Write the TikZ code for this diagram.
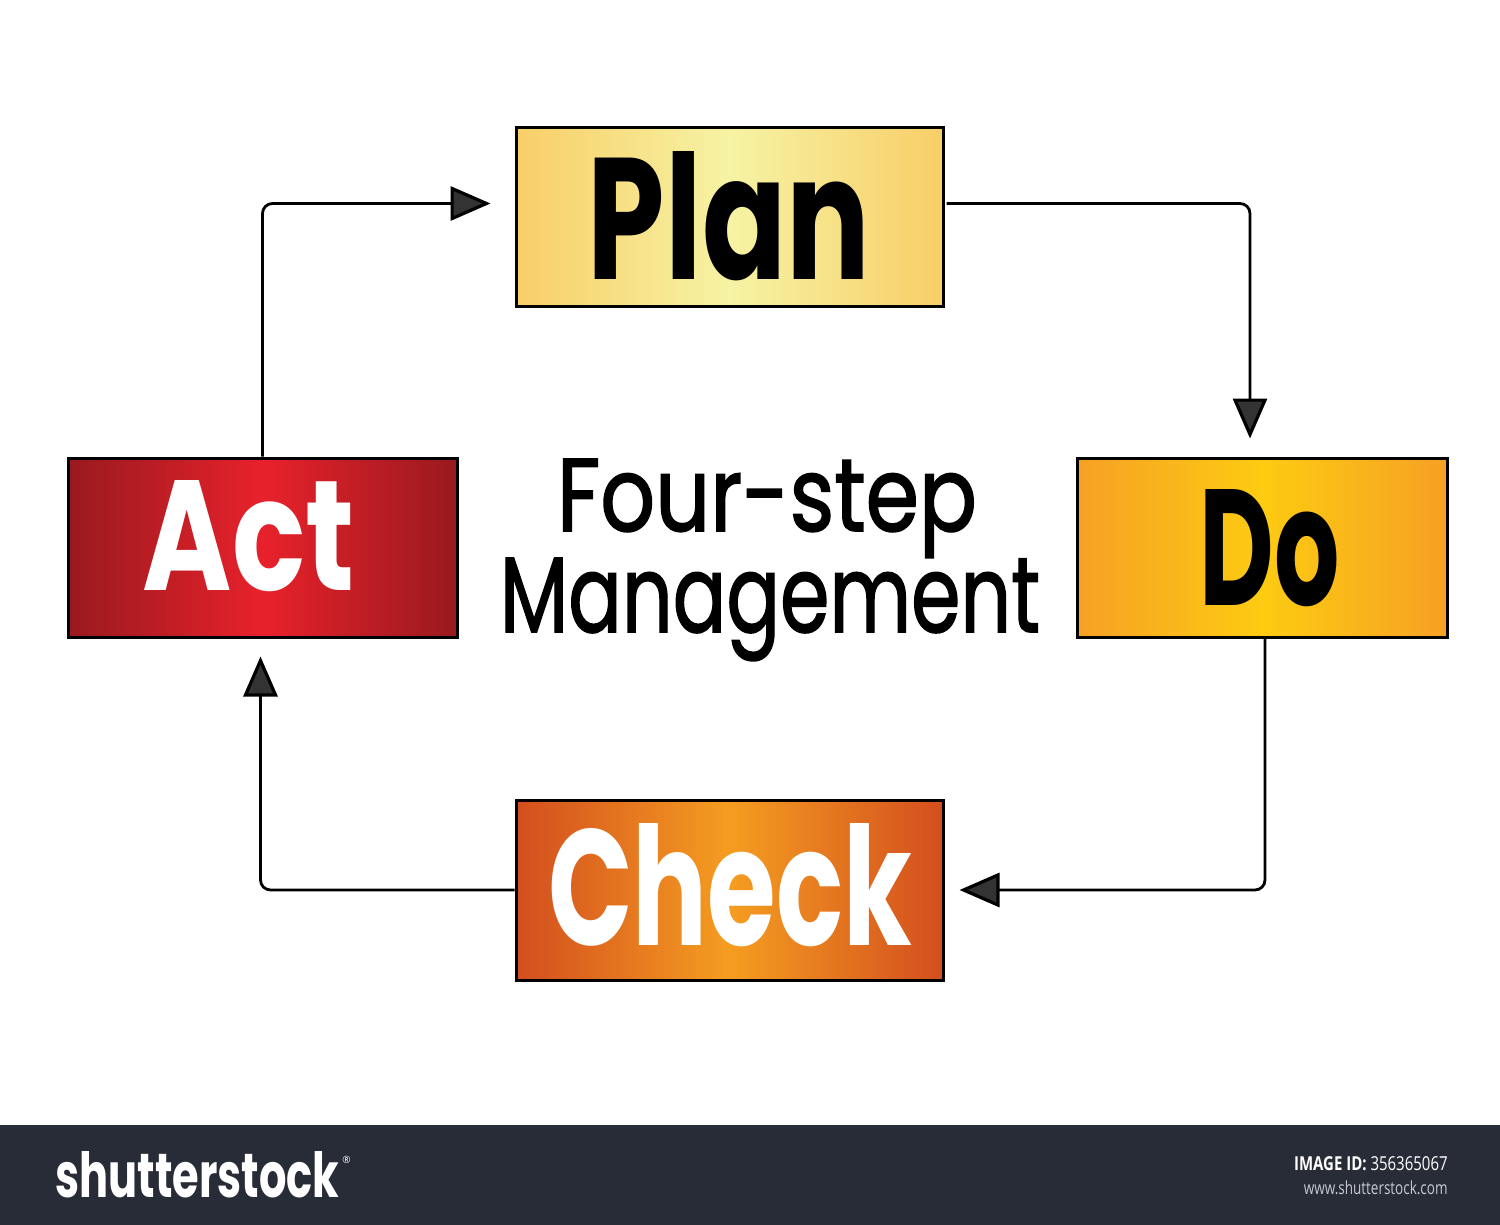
\documentclass[tikz,border=0pt]{standalone}
\usepackage{fontspec}
\setmainfont{Poppins}
\newfontfamily\titlefont[FakeBold=1.6]{Poppins}
\newfontfamily\footfont{Open Sans}
\usetikzlibrary{arrows.meta,calc}
\definecolor{planL}{HTML}{F8CE68}
\definecolor{planM}{HTML}{F6F3A4}
\definecolor{doL}{HTML}{F6A024}
\definecolor{doM}{HTML}{FDCB12}
\definecolor{actL}{HTML}{981A1E}
\definecolor{actM}{HTML}{E8212B}
\definecolor{chkL}{HTML}{D34E1F}
\definecolor{chkM}{HTML}{F59D20}
\definecolor{footbg}{HTML}{272C37}
\definecolor{footgrey}{HTML}{C5C9CF}
\tikzset{
  box/.style={draw=black, line width=1.5pt, inner sep=0pt},
  conn/.style={draw=black, line width=1.4pt, rounded corners=5pt,
    -{Triangle[length=20pt,width=17pt,fill=black!80,line width=1.6pt]}},
  lbl/.style={anchor=base, inner sep=0pt}
}
\begin{document}
\begin{tikzpicture}[x=0.5pt,y=-0.5pt]
\useasboundingbox (0,0) rectangle (1500,1225);
\fill[white] (0,0) rectangle (1500,1225);
% boxes
\node[box, minimum width=213.5pt, minimum height=89.5pt,
  left color=planL, right color=planL, middle color=planM] (plan) at (729.5,217.5) {};
\node[box, minimum width=185pt, minimum height=89.5pt,
  left color=doL, right color=doL, middle color=doM] (do) at (1262,547.5) {};
\node[box, minimum width=194.5pt, minimum height=89.5pt,
  left color=actL, right color=actL, middle color=actM] (act) at (262.5,547.5) {};
\node[box, minimum width=213.5pt, minimum height=90pt,
  left color=chkL, right color=chkL, middle color=chkM] (check) at (729.5,890) {};
% labels
\node[lbl] (plant) at (729,280) {\resizebox{141pt}{64pt}{\bfseries Plan}};
\node[lbl] (dot) at (1270,605) {\resizebox{70pt}{58pt}{\bfseries Do}};
\node[lbl, text=white] (actt) at (249,590) {\resizebox{106pt}{55pt}{\bfseries Act}};
\node[lbl, text=white] (checkt) at (730,945) {\resizebox{182pt}{61pt}{\bfseries Check}};
\node[lbl] (title1) at (767,531) {\resizebox{210pt}{36pt}{\titlefont Four-step}};
\node[lbl] (title2) at (770,632) {\resizebox{270pt}{37pt}{\titlefont Management}};
% connectors
\draw[conn] (act.north) |- ($(plan.west)+(-24,-14)$);
\draw[conn] ($(plan.east)+(2,-14)$) -| ($(do.north)+(-12,-18)$);
\draw[conn] ($(do.south)+(3,0)$) |- ($(check.east)+(15,0)$);
\draw[conn] (check.west) -| ($(act.south)+(-2,18)$);
% footer
\fill[footbg] (0,1125) rectangle (1500,1225);
\node[lbl, anchor=base west, text=white] (logo) at (55,1197)
  {\resizebox{142pt}{23pt}{\bfseries shutterstock}};
\node[anchor=base west, inner sep=0pt, text=white, font=\footfont\fontsize{5}{6}\selectfont] (reg) at (342,1163) {®};
\node[anchor=base east, inner sep=0pt, text=white, font=\footfont\fontsize{9.6}{11}\selectfont] (imgid) at (1448,1170)
  {\scalebox{0.78}[1]{\bfseries IMAGE ID: \mdseries 356365067}};
\node[anchor=base east, inner sep=0pt, text=footgrey, font=\footfont\fontsize{9}{11}\selectfont] (url) at (1448,1194)
  {\scalebox{0.75}[1]{www.shutterstock.com}};
\end{tikzpicture}
\end{document}
